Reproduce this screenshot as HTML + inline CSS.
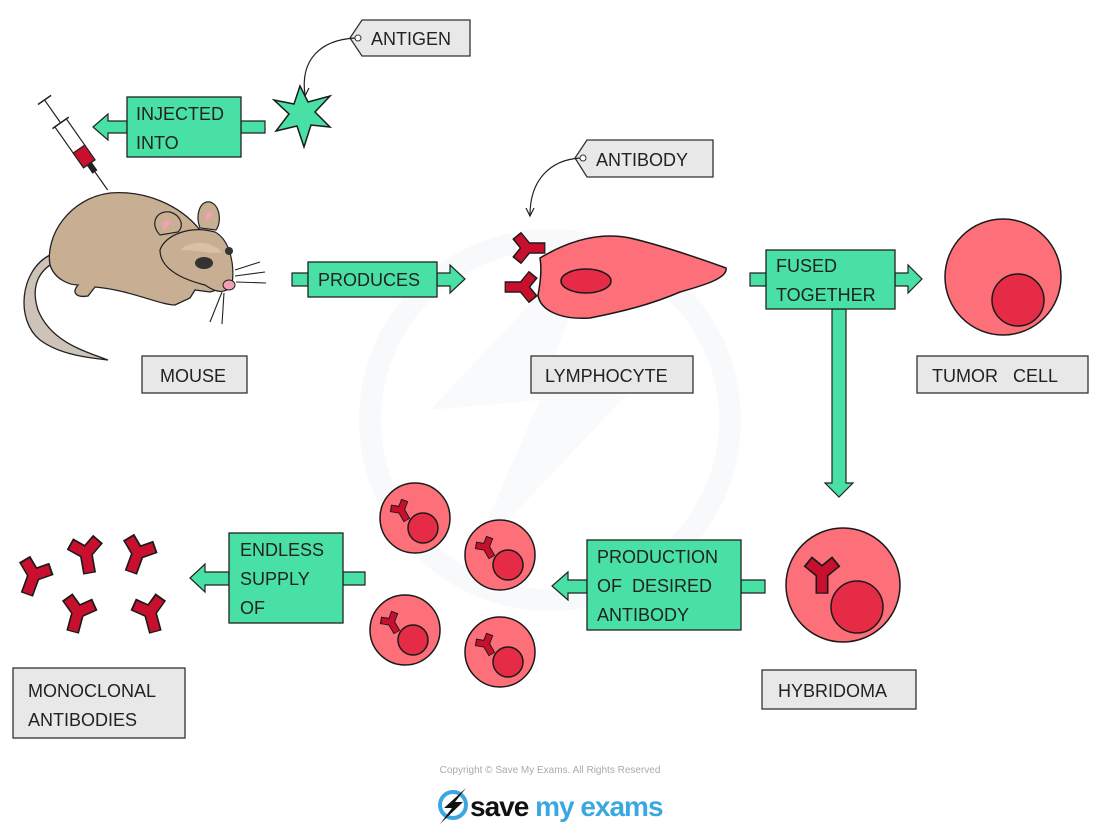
<!DOCTYPE html>
<html><head><meta charset="utf-8"><style>
html,body{margin:0;padding:0;background:#fff}
svg{display:block}
text{font-family:"Liberation Sans",sans-serif;fill:#222}
</style></head><body>
<svg width="1100" height="838" viewBox="0 0 1100 838" xmlns="http://www.w3.org/2000/svg">
<defs>
<g id="ab">
<path d="M0,0 L0,16 M0,0 L-11,-9 M0,0 L11,-9" stroke="#1a1a1a" stroke-width="10" fill="none" stroke-linejoin="miter"/>
<path d="M0,0 L0,15 M0,0 L-10,-8 M0,0 L10,-8" stroke="#c8102e" stroke-width="7.5" fill="none"/>
</g>
<g id="cell">
<circle r="35" fill="#fd6f79" stroke="#1a1a1a" stroke-width="1.5"/>
<circle cx="8" cy="10" r="15" fill="#e52b45" stroke="#1a1a1a" stroke-width="1.5"/>
<use href="#ab" transform="translate(-14,-8) rotate(-30) scale(0.75)"/>
</g>
</defs>

<!-- faint watermark -->
<circle cx="550" cy="420" r="180" fill="none" stroke="#f7f9fb" stroke-width="22"/>
<path d="M600,230 L430,410 L540,400 L470,560 L660,360 L550,370 Z" fill="#f9fafb"/>

<!-- ANTIGEN tag -->
<path d="M350,38 L362,20 L470,20 L470,56 L362,56 Z" fill="#e8e8e8" stroke="#333" stroke-width="1.3"/>
<circle cx="358" cy="38" r="3" fill="#fff" stroke="#333"/>
<text x="371" y="45" font-size="18">ANTIGEN</text>
<path d="M355,38 C320,40 300,60 305,95" fill="none" stroke="#222" stroke-width="1.2"/>
<path d="M300,88 L305,96 L309,88" fill="none" stroke="#222" stroke-width="1.2"/>

<!-- star -->
<path d="M300,86 L308,102 L330,96 L315,112 L330,127 L311,125 L304,147 L297,126 L276,131 L289,114 L274,100 L294,104 Z" fill="#48e0a4" stroke="#1a1a1a" stroke-width="1.5"/>

<!-- injected arrow -->
<path d="M265,121 L241,121 L241,133 L265,133 Z" fill="#48e0a4" stroke="#222" stroke-width="1.2"/>
<path d="M127,121 L108,121 L108,114 L93,127 L108,140 L108,133 L127,133 Z" fill="#48e0a4" stroke="#222" stroke-width="1.2"/>
<rect x="127" y="97" width="114" height="60" fill="#48e0a4" stroke="#222" stroke-width="1.3"/>
<text x="136" y="120" font-size="18">INJECTED</text>
<text x="136" y="149" font-size="18">INTO</text>

<!-- syringe -->
<g transform="translate(95,172) rotate(-35)">
<line x1="0" y1="0" x2="0" y2="22" stroke="#222" stroke-width="1.2"/>
<rect x="-3" y="-10" width="6" height="10" fill="#222"/>
<rect x="-7" y="-60" width="14" height="50" fill="#fff" stroke="#222" stroke-width="1.2"/>
<rect x="-7" y="-28" width="14" height="18" fill="#c8102e" stroke="#222" stroke-width="1.2"/>
<line x1="0" y1="-60" x2="0" y2="-88" stroke="#222" stroke-width="1.2"/>
<line x1="-10" y1="-60" x2="10" y2="-60" stroke="#222" stroke-width="1.5"/>
<line x1="-8" y1="-88" x2="8" y2="-88" stroke="#222" stroke-width="1.5"/>
</g>

<!-- mouse -->
<path d="M50,255 C20,270 15,320 40,340 C60,355 90,358 108,360 C80,350 50,340 38,310 C30,285 40,270 55,262 Z" fill="#cdc3b8" stroke="#222" stroke-width="1.3"/>
<path d="M110,193 C70,198 45,235 50,265 C55,280 70,285 78,285 C72,292 75,298 88,296 L95,287 C130,290 160,305 175,305 L190,298 L195,290 L210,292 C220,290 228,282 228,275 C220,250 210,240 200,230 C180,205 145,190 110,193 Z" fill="#c8ae93" stroke="#222" stroke-width="1.3"/>
<path d="M160,235 C150,225 155,210 170,212 C180,215 185,225 178,232 Z" fill="#c8ae93" stroke="#222" stroke-width="1.2"/>
<path d="M164,230 C160,222 165,218 172,222 Z" fill="#f4a0b4"/>
<path d="M200,228 C195,215 200,200 210,202 C220,205 222,222 216,230 Z" fill="#c8ae93" stroke="#222" stroke-width="1.2"/>
<path d="M205,222 C204,212 210,208 213,215 Z" fill="#f4a0b4"/>
<path d="M160,250 C165,235 190,225 215,232 C230,240 235,265 232,285 C225,295 215,292 205,285 C185,280 160,270 160,250 Z" fill="#c8ae93" stroke="#222" stroke-width="1.2"/>
<path d="M180,250 C190,240 210,240 222,252 C215,255 200,250 180,250 Z" fill="#dbc0a3"/>
<ellipse cx="204" cy="263" rx="9" ry="6" fill="#333"/>
<circle cx="229" cy="251" r="4" fill="#333"/>
<ellipse cx="229" cy="285" rx="6" ry="5" fill="#f4a0b4" stroke="#222"/>
<path d="M235,270 L260,262 M235,276 L265,272 M236,282 L266,283 M222,292 L210,322 M224,293 L222,324" stroke="#222" stroke-width="1.1" fill="none"/>

<rect x="142" y="356" width="105" height="37" fill="#e8e8e8" stroke="#333" stroke-width="1.3"/>
<text x="160" y="382" font-size="18">MOUSE</text>

<!-- produces arrow -->
<path d="M292,273 L308,273 L308,286 L292,286 Z" fill="#48e0a4" stroke="#222" stroke-width="1.2"/>
<path d="M437,273 L450,273 L450,265 L465,279 L450,293 L450,286 L437,286 Z" fill="#48e0a4" stroke="#222" stroke-width="1.2"/>
<rect x="308" y="262" width="129" height="35" fill="#48e0a4" stroke="#222" stroke-width="1.3"/>
<text x="318" y="286" font-size="18">PRODUCES</text>

<!-- ANTIBODY tag -->
<path d="M575,158 L587,140 L713,140 L713,177 L587,177 Z" fill="#e8e8e8" stroke="#333" stroke-width="1.3"/>
<circle cx="583" cy="158" r="3" fill="#fff" stroke="#333"/>
<text x="596" y="166" font-size="18">ANTIBODY</text>
<path d="M580,158 C550,160 530,180 530,215" fill="none" stroke="#222" stroke-width="1.2"/>
<path d="M526,208 L530,216 L534,208" fill="none" stroke="#222" stroke-width="1.2"/>

<!-- lymphocyte -->
<path d="M540,258 C570,240 600,232 630,238 C660,245 690,255 726,268 C728,278 705,285 680,292 C650,305 620,312 590,318 C560,320 540,310 538,295 C540,285 542,270 540,258 Z" fill="#fd6f79" stroke="#1a1a1a" stroke-width="1.5"/>
<ellipse cx="586" cy="281" rx="25" ry="12" fill="#e52b45" stroke="#1a1a1a" stroke-width="1.5"/>
<use href="#ab" transform="translate(527,248) rotate(-90) scale(1.15)"/>
<use href="#ab" transform="translate(523,287) rotate(-90) scale(1.15) rotate(180) translate(0,0)"/>
<rect x="531" y="356" width="162" height="37" fill="#e8e8e8" stroke="#333" stroke-width="1.3"/>
<text x="545" y="382" font-size="18">LYMPHOCYTE</text>

<!-- fused together -->
<path d="M750,273 L766,273 L766,286 L750,286 Z" fill="#48e0a4" stroke="#222" stroke-width="1.2"/>
<path d="M895,273 L908,273 L908,265 L922,279 L908,293 L908,286 L895,286 Z" fill="#48e0a4" stroke="#222" stroke-width="1.2"/>
<path d="M832,309 L832,483 L825,483 L839,497 L853,483 L846,483 L846,309 Z" fill="#48e0a4" stroke="#222" stroke-width="1.2"/>
<rect x="766" y="250" width="129" height="59" fill="#48e0a4" stroke="#222" stroke-width="1.3"/>
<text x="776" y="272" font-size="18">FUSED</text>
<text x="776" y="301" font-size="18">TOGETHER</text>

<!-- tumor cell -->
<circle cx="1003" cy="277" r="58" fill="#fd6f79" stroke="#1a1a1a" stroke-width="1.5"/>
<circle cx="1018" cy="300" r="26" fill="#e52b45" stroke="#1a1a1a" stroke-width="1.5"/>
<rect x="917" y="356" width="171" height="37" fill="#e8e8e8" stroke="#333" stroke-width="1.3"/>
<text x="932" y="382" font-size="18" xml:space="preserve">TUMOR   CELL</text>

<!-- hybridoma -->
<circle cx="843" cy="585" r="57" fill="#fd6f79" stroke="#1a1a1a" stroke-width="1.5"/>
<circle cx="857" cy="607" r="26" fill="#e52b45" stroke="#1a1a1a" stroke-width="1.5"/>
<use href="#ab" transform="translate(822,573) scale(1.3)"/>
<rect x="762" y="670" width="154" height="39" fill="#e8e8e8" stroke="#333" stroke-width="1.3"/>
<text x="778" y="697" font-size="18">HYBRIDOMA</text>

<!-- production arrow -->
<path d="M741,580 L765,580 L765,593 L741,593 Z" fill="#48e0a4" stroke="#222" stroke-width="1.2"/>
<path d="M587,580 L568,580 L568,572 L552,586 L568,600 L568,593 L587,593 Z" fill="#48e0a4" stroke="#222" stroke-width="1.2"/>
<rect x="587" y="540" width="154" height="90" fill="#48e0a4" stroke="#222" stroke-width="1.3"/>
<text x="597" y="563" font-size="18">PRODUCTION</text>
<text x="597" y="592" font-size="18" xml:space="preserve">OF  DESIRED</text>
<text x="597" y="621" font-size="18">ANTIBODY</text>

<!-- clone cells -->
<use href="#cell" transform="translate(415,518)"/>
<use href="#cell" transform="translate(500,555)"/>
<use href="#cell" transform="translate(405,630)"/>
<use href="#cell" transform="translate(500,652)"/>

<!-- endless arrow -->
<path d="M343,572 L365,572 L365,585 L343,585 Z" fill="#48e0a4" stroke="#222" stroke-width="1.2"/>
<path d="M229,572 L205,572 L205,564 L190,578 L205,592 L205,585 L229,585 Z" fill="#48e0a4" stroke="#222" stroke-width="1.2"/>
<rect x="229" y="533" width="114" height="90" fill="#48e0a4" stroke="#222" stroke-width="1.3"/>
<text x="240" y="556" font-size="18">ENDLESS</text>
<text x="240" y="585" font-size="18">SUPPLY</text>
<text x="240" y="614" font-size="18">OF</text>

<!-- antibodies -->
<use href="#ab" transform="translate(34,575) rotate(20) scale(1.3)"/>
<use href="#ab" transform="translate(86,553) rotate(-10) scale(1.3)"/>
<use href="#ab" transform="translate(138,553) rotate(20) scale(1.3)"/>
<use href="#ab" transform="translate(78,612) rotate(15) scale(1.3)"/>
<use href="#ab" transform="translate(150,612) rotate(-15) scale(1.3)"/>

<rect x="13" y="668" width="172" height="70" fill="#e8e8e8" stroke="#333" stroke-width="1.3"/>
<text x="28" y="697" font-size="18">MONOCLONAL</text>
<text x="28" y="726" font-size="18">ANTIBODIES</text>

<!-- footer -->
<text x="550" y="773" font-size="10" text-anchor="middle" style="fill:#aaa">Copyright © Save My Exams. All Rights Reserved</text>
<circle cx="453" cy="805" r="13" fill="none" stroke="#3aa8e0" stroke-width="4"/>
<path d="M466,788 L444,808 L452,808 L440,824 L463,802 L455,802 Z" fill="#111"/>
<text x="470" y="816" font-size="28" font-weight="bold" style="letter-spacing:-1px"><tspan style="fill:#111">save</tspan><tspan style="fill:#3aa8e0"> my exams</tspan></text>
</svg>
</body></html>
